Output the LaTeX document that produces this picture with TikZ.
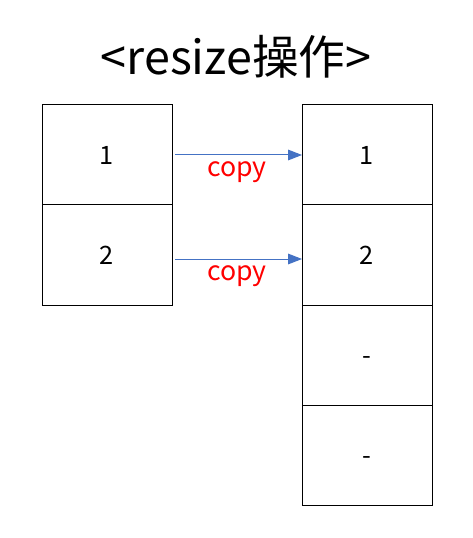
\documentclass[tikz,border=0pt]{standalone}
\usepackage{fontspec}
\setmainfont{Noto Sans CJK JP}
\usetikzlibrary{arrows.meta}
\definecolor{copyblue}{RGB}{68,114,196}
\tikzset{
	cell/.style={draw, line width=0.75, minimum width=97.5pt, minimum height=75pt, inner sep=0pt, font=\fontsize{19}{22}\selectfont},
	copyarrow/.style={draw=copyblue, line width=0.75, -{Triangle[length=10.5pt,width=8pt,fill=copyblue]}},
	copylabel/.style={text=red, inner sep=0.75pt, font=\fontsize{20}{24}\selectfont}
}
\begin{document}
\begin{tikzpicture}[x=0.75pt,y=0.75pt,yscale=-1,xscale=1]
		\useasboundingbox (0,0) rectangle (472,538);
		\draw (236,57) node [inner sep=0.75pt, font=\fontsize{35}{40}\selectfont] (title) {<resize操作>};
		% old buffer
		\draw (107,155) node [cell] (old1) {1};
		\draw (107,255) node [cell] (old2) {2};
		% new buffer
		\draw (367,155) node [cell] (new1) {1};
		\draw (367,255) node [cell] (new2) {2};
		\draw (367,355) node [cell] (new3) {\vphantom{1}-};
		\draw (367,455) node [cell] (new4) {\vphantom{1}-};
		\coordinate (s1) at (175,155);
		\coordinate (e1) at (302,155);
		\coordinate (s2) at (175,259);
		\coordinate (e2) at (302,259);
		\draw [copyarrow] (s1) -- (e1);
		\draw [copyarrow] (s2) -- (e2);
		\draw (237,172) node [copylabel] (c1) {copy};
		\draw (237,276) node [copylabel] (c2) {copy};
\end{tikzpicture}
\end{document}
